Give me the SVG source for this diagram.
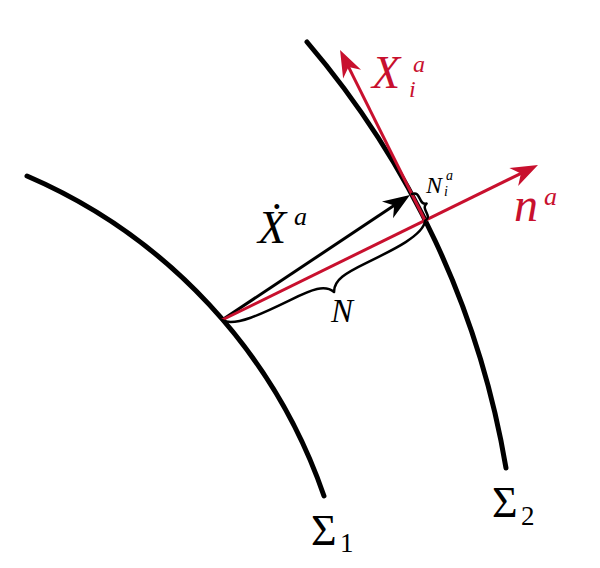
<svg xmlns="http://www.w3.org/2000/svg" width="600" height="568" viewBox="0 0 600 568">
<defs>
<style>
.surf{fill:none;stroke:#000;stroke-width:5;stroke-linecap:round}
.vec{fill:none;stroke-width:3}
.blk{stroke:#000}
.red{stroke:#c8102e}
.brace{fill:none;stroke:#000;stroke-width:2.5;stroke-linejoin:round;stroke-linecap:round}
.m{font-family:'Liberation Serif','Times New Roman',serif;font-style:italic}
.u{font-family:'Liberation Serif','Times New Roman',serif}
.rt{fill:#c8102e}
</style>
<marker id="ahB" markerUnits="userSpaceOnUse" viewBox="-30 -12 32 24" markerWidth="32" markerHeight="24" refX="-12" refY="0" orient="auto">
<path d="M0,0 L-27,-10 L-19,0 L-27,10 Z" fill="#000"/>
</marker>
<marker id="ahR" markerUnits="userSpaceOnUse" viewBox="-30 -12 32 24" markerWidth="32" markerHeight="24" refX="-12" refY="0" orient="auto">
<path d="M0,0 L-27,-10 L-19,0 L-27,10 Z" fill="#c8102e"/>
</marker>
</defs>
<rect width="600" height="568" fill="#fff"/>
<g id="sigma1">
<path class="surf" d="M27,176 A540,540 0 0 1 324,496"/>
<text class="u" x="311" y="545" font-size="44">Σ</text>
<text class="u" x="340" y="552" font-size="27">1</text>
</g>
<g id="sigma2">
<path class="surf" d="M307,42 A880,880 0 0 1 506,468"/>
<text class="u" x="492" y="517" font-size="44">Σ</text>
<text class="u" x="521" y="525" font-size="27">2</text>
</g>
<g id="connectors">
<line class="vec blk" x1="222" y1="320" x2="400" y2="201.6" marker-end="url(#ahB)"/>
<line class="vec red" x1="222" y1="320" x2="527.2" y2="170.3" marker-end="url(#ahR)"/>
<line class="vec red" x1="425" y1="220.5" x2="345.4" y2="60.7" marker-end="url(#ahR)"/>
<path class="brace" transform="translate(222,320) rotate(-26)" d="M0,0 C8,12 40,12 70,12 C95,12 108,13 113,24 C118,13 131,12 156,12 C186,12 218,12 226,0"/>
<path class="brace" transform="translate(425,221) rotate(-115.7)" d="M0,0 C1,5 3,5 7,5 C11,5 14,5 15,9 C16,5 19,5 23,5 C27,5 29,5 30,0"/>
</g>
<g id="label-xdot">
<text class="m" x="258" y="243" font-size="46">Ẋ</text>
<text class="m" x="294" y="225" font-size="26">a</text>
</g>
<g id="label-xi" class="rt">
<text class="m" x="372" y="88" font-size="46">X</text>
<text class="m" x="413" y="72" font-size="24">a</text>
<text class="m" x="409" y="97" font-size="24">i</text>
</g>
<g id="label-n" class="rt">
<text class="m" x="514" y="221" font-size="48">n</text>
<text class="m" x="544" y="205" font-size="26">a</text>
</g>
<g id="label-N">
<text class="m" x="331" y="322" font-size="33">N</text>
</g>
<g id="label-Ni">
<text class="m" x="426" y="193" font-size="24">N</text>
<text class="m" x="446" y="180" font-size="14">a</text>
<text class="m" x="444" y="196" font-size="14">i</text>
</g>
</svg>
